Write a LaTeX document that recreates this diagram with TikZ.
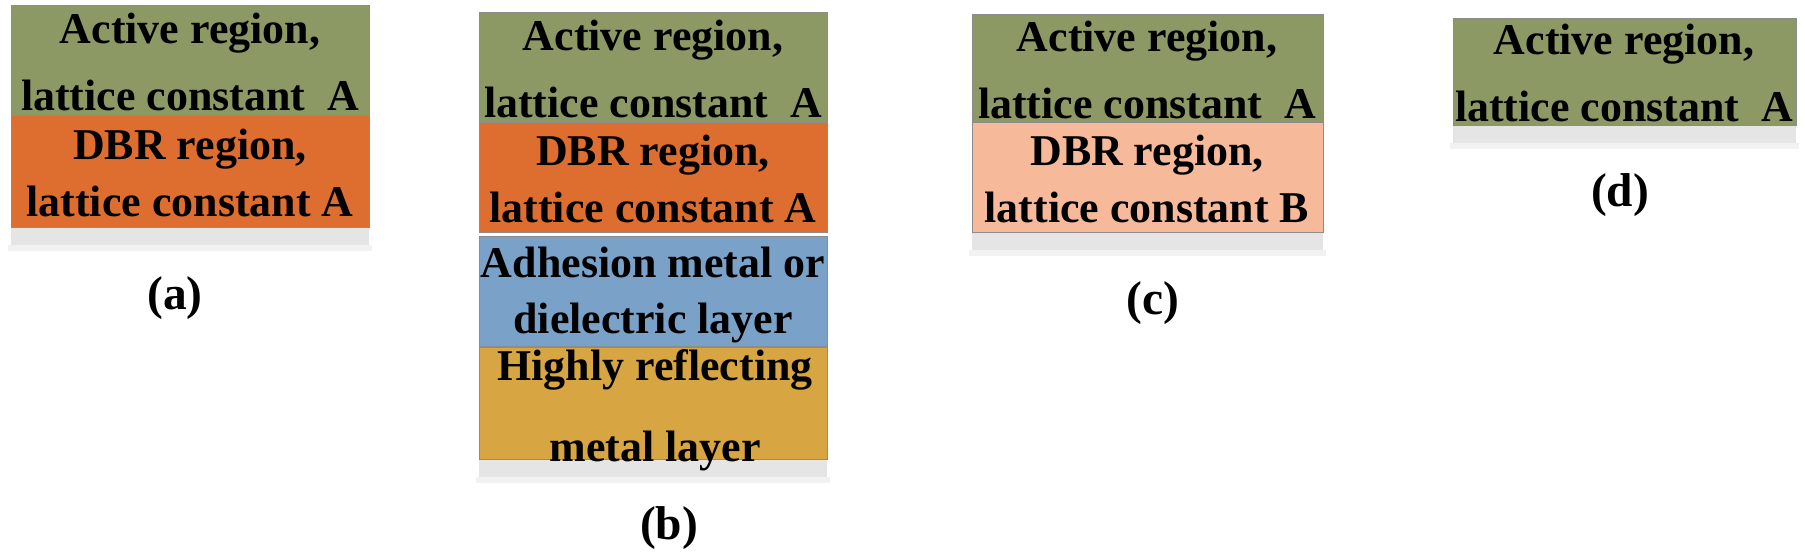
\documentclass[tikz,border=0pt]{standalone}
\usepackage{fontspec}
\setmainfont{Liberation Serif}
\definecolor{grn}{RGB}{140,153,100}
\definecolor{org}{RGB}{222,110,48}
\definecolor{pch}{RGB}{246,186,155}
\definecolor{blu}{RGB}{122,162,200}
\definecolor{gld}{RGB}{215,165,65}
\tikzset{
 layer/.style={inner sep=0pt,align=center,font=\fontsize{25}{32}\selectfont\bfseries},
 lab/.style={font=\fontsize{27}{30}\selectfont\bfseries}
}
\begin{document}
\begin{tikzpicture}[x=0.02cm,y=-0.02cm]
\useasboundingbox (0,0) rectangle (1805,555);
% shadows
\foreach \x/\y/\w in {11/227/358, 479/459/348, 972/232/351, 1453/125/343}{
 \fill[black!10] (\x,\y) rectangle ++(\w,18);
 \fill[black!5] (\x-3,\y+18) rectangle ++(\w+6,6);
}
% (a)
\fill[grn] (11,5) rectangle (369,115);
\fill[org] (11,115) rectangle (369,227);
\draw[black!45] (11,5) rectangle (369,115) (11,115) rectangle (369,227);
\node[layer] (a1) at (190,62) {Active region,\\[6pt]lattice constant\ \ A};
\node[layer] (a2) at (190,173) {DBR region,\\lattice constant A};
\node[lab] (la) at (175,298) {(a)};
% (b)
\fill[grn] (479,12) rectangle (827,122);
\fill[org] (479,122) rectangle (827,232);
\fill[blu] (479,236) rectangle (827,346);
\fill[gld] (479,347) rectangle (827,459);
\draw[black!45] (479,12) rectangle (827,122) (479,122) rectangle (827,232) (479,236) rectangle (827,346) (479,347) rectangle (827,459);
\node[layer] (b1) at (653,69) {Active region,\\[6pt]lattice constant\ \ A};
\node[layer] (b2) at (653,179) {DBR region,\\lattice constant A};
\node[layer] (b3) at (653,295) {Adhesion metal or\\dielectric layer};
\node[layer] (b4) at (655,410) {Highly reflecting\\[14pt]metal layer};
\node[lab] (lb) at (669,528) {(b)};
% (c)
\fill[grn] (972,14) rectangle (1323,122);
\fill[pch] (972,122) rectangle (1323,232);
\draw[black!45] (972,14) rectangle (1323,122) (972,122) rectangle (1323,232);
\node[layer] (c1) at (1147,70) {Active region,\\[6pt]lattice constant\ \ A};
\node[layer] (c2) at (1147,179) {DBR region,\\lattice constant B};
\node[lab] (lc) at (1153,303) {(c)};
% (d)
\fill[grn] (1453,18) rectangle (1796,125);
\draw[black!45] (1453,18) rectangle (1796,125);
\node[layer] (d1) at (1624,73) {Active region,\\[6pt]lattice constant\ \ A};
\node[lab] (ld) at (1620,195) {(d)};
\end{tikzpicture}
\end{document}
